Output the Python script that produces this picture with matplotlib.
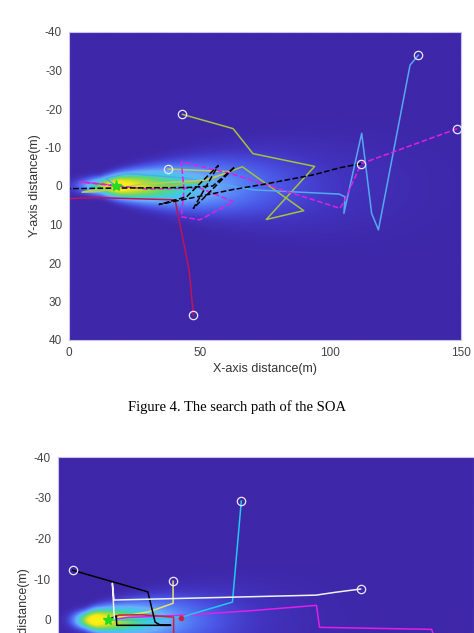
#!/usr/bin/env python3
"""
Search paths of the SOA over the odour plume (two stacked panels, the second cropped).
"""
import matplotlib
matplotlib.use('Agg')
import matplotlib.pyplot as plt
from matplotlib.colors import LinearSegmentedColormap
import numpy as np

plt.rcParams['font.family'] = 'Liberation Sans'
plt.rcParams['axes.unicode_minus'] = False

# ---- top panel (Figure 4) paths, in metres ----
olive_x = [43.4, 62.8, 70.4, 94.0, 75.5, 89.8, 66.3, 52.0, 40.0, 28.0, 18.0]
olive_y = [-18.6, -14.9, -8.4, -5.1, 8.7, 6.4, -5.0, -1.2, -0.3, 0.6, 0.0]

lblue_x = [133.7, 130.5, 118.4, 115.8, 112.0, 105.2, 105.6, 103.4, 70.5, 45.0, 22.0, 14.0, 18.0]
lblue_y = [-34.0, -31.4, 11.4, 7.1, -13.7, 7.1, 2.8, 2.1, 1.0, -2.0, -3.3, -2.0, 0.0]

magenta_x = [148.6, 111.8, 105.6, 103.7, 62.0, 43.0, 44.0, 43.0, 50.0, 63.0, 50.0, 30.0, 10.0, 4.0, 18.0]
magenta_y = [-14.9, -5.8, 3.5, 5.8, -3.2, -6.3, 1.0, 8.0, 8.8, 4.1, 0.5, 0.8, -0.7, -1.1, 0.0]

black_x = [111.8, 104.0, 93.5, 75.0, 62.9, 34.5, 45.0, 57.1, 47.6, 63.5, 55.0, 45.0, 25.0, 10.0, 0.0]
black_y = [-5.8, -4.8, -2.9, -0.5, 0.9, 4.8, 2.8, -5.3, 5.8, -5.0, 0.0, 0.4, 0.5, 0.6, 0.7]

red_x = [47.6, 46.0, 40.6, 25.0, 10.0, 0.0]
red_y = [33.5, 22.0, 3.6, 3.3, 3.0, 3.3]

ygreen_x = [37.9, 61.6, 52.0, 40.0, 28.0, 20.0, 10.0, 5.0, 18.0]
ygreen_y = [-4.4, -3.7, -1.5, -1.0, -0.5, 0.5, 1.5, 1.6, 0.0]

# ---- bottom panel (cropped) paths ----
b_cyan_x = [66.1, 62.9, 45.0, 30.0, 18.0]
b_cyan_y = [-29.2, -4.4, -0.8, 0.0, 0.0]

b_white_x = [109.1, 100.0, 93.0, 20.2, 19.6, 20.3, 17.0]
b_white_y = [-7.6, -6.8, -6.1, -4.9, -9.0, -0.3, 0.0]

b_black_x = [5.3, 32.4, 35.0, 37.0, 40.6, 21.2, 21.0, 18.0]
b_black_y = [-12.2, -6.9, 0.5, 1.3, 1.3, 1.3, -1.0, 0.0]

b_yellow_x = [41.5, 41.5, 32.7, 18.8, 18.0]
b_yellow_y = [-9.5, -4.1, -2.0, -0.4, 0.0]

b_magenta_x = [140.0, 134.7, 94.3, 93.2, 70.0, 46.0, 25.0, 18.0]
b_magenta_y = [12.0, 2.3, 1.8, -3.6, -2.3, -1.2, -0.6, 0.0]

b_red_x = [41.7, 41.7, 30.0, 22.0, 18.0]
b_red_y = [35.0, -0.7, -1.3, -1.2, 0.0]

b_circle_x = [66.1, 109.1, 5.3, 41.5]
b_circle_y = [-29.2, -7.6, -12.2, -9.5]

source_x, source_y = 18.0, 0.0

# parula-like map
parula = LinearSegmentedColormap.from_list('parula_like', [
    (0.00, (62/255, 39/255, 168/255)),
    (0.04, (66/255, 52/255, 192/255)),
    (0.10, (74/255, 84/255, 228/255)),
    (0.18, (84/255, 126/255, 246/255)),
    (0.28, (110/255, 172/255, 252/255)),
    (0.40, (60/255, 206/255, 226/255)),
    (0.55, (92/255, 214/255, 122/255)),
    (0.72, (172/255, 220/255, 52/255)),
    (0.88, (245/255, 226/255, 36/255)),
    (1.00, (250/255, 240/255, 20/255)),
])


def plume(xg, yg, x_peak, sx_up, decay, sy0, sy_rate):
    """Simple elongated plume: gaussian upwind, exponential decay downwind."""
    along = np.where(xg < x_peak,
                     np.exp(-0.5 * ((xg - x_peak) / sx_up) ** 2),
                     np.exp(-(xg - x_peak) / decay))
    sy = sy0 + sy_rate * np.clip(xg - x_peak + sx_up, 0, None)
    return along * np.exp(-0.5 * (yg / sy) ** 2)


def draw_panel(ax, field, paths, circles):
    ax.imshow(field, extent=(0, 150, -40, 40), origin='lower', aspect='auto',
              cmap=parula, vmin=0, vmax=1, interpolation='bilinear', zorder=0)
    for xs, ys, color, ls in paths:
        ax.plot(xs, ys, color=color, ls=ls, lw=1.1, zorder=2)
    ax.plot(circles[0], circles[1], 'o', ms=6, mfc='none', mec='#ece6ff',
            mew=0.9, zorder=4)
    ax.plot(source_x, source_y, '*', ms=8, color='#22dd22', zorder=5)
    ax.set_xlim(0, 150)
    ax.set_ylim(40, -40)
    ax.set_xticks([0, 50, 100, 150])
    ax.set_yticks([-40, -30, -20, -10, 0, 10, 20, 30, 40])
    ax.tick_params(length=0, labelsize=8.5, labelcolor='#444444', pad=5)
    for sp in ax.spines.values():
        sp.set_color('#c8c2ee')
        sp.set_linewidth(0.8)


fig = plt.figure(figsize=(4.74, 6.33), dpi=100)
W, H = 474, 633

xg, yg = np.meshgrid(np.linspace(0, 150, 600), np.linspace(-40, 40, 400))

# top panel
ax1 = fig.add_axes([69 / W, 1 - 340 / H, 392 / W, 308 / H])
top_field = np.clip(1.1 * plume(xg, yg, 20, 8, 26, 1.4, 0.075), 0, 1)
top_paths = [
    (olive_x, olive_y, '#a3c23f', '-'),
    (lblue_x, lblue_y, '#55a8f0', '-'),
    (ygreen_x, ygreen_y, '#b5cf5a', '-'),
    (red_x, red_y, '#c0135a', '-'),
    (magenta_x, magenta_y, '#e020e0', '--'),
    (black_x, black_y, '#000000', '--'),
]
top_circles = ([43.4, 133.7, 148.6, 111.8, 37.9, 47.6],
               [-18.6, -34.0, -14.9, -5.8, -4.4, 33.5])
draw_panel(ax1, top_field, top_paths, top_circles)
ax1.set_xlabel('X-axis distance(m)', fontsize=9, color='#333333', labelpad=3)
ax1.set_ylabel('Y-axis distance(m)', fontsize=9, color='#333333', labelpad=3)

fig.text(0.5, 1 - 407 / H, 'Figure 4. The search path of the SOA',
         ha='center', va='center', fontsize=10.5, family='Liberation Serif')

# bottom panel, cut off by the page edge (its x labels fall outside the page)
ax2 = fig.add_axes([58 / W, 1 - 783 / H, 416 / W, 326 / H])
bottom_field = np.clip(1.15 * plume(xg, yg, 14, 4.5, 18, 1.4, 0.08), 0, 1)
bottom_paths = [
    (b_magenta_x, b_magenta_y, '#e020e8', '-'),
    (b_cyan_x, b_cyan_y, '#22c8f0', '-'),
    (b_yellow_x, b_yellow_y, '#e8e070', '-'),
    (b_red_x, b_red_y, '#d0203a', '-'),
    (b_black_x, b_black_y, '#000000', '-'),
    (b_white_x, b_white_y, '#f2f2f2', '-'),
]
draw_panel(ax2, bottom_field, bottom_paths, (b_circle_x, b_circle_y))
ax2.plot(44.3, -0.5, 'o', ms=3, color='#d0203a', zorder=3)
ax2.set_xticklabels([])
ax2.set_yticks([-40, -30, -20, -10, 0])
ax2.set_ylabel('Y-axis distance(m)', fontsize=9, color='#333333', labelpad=3)

fig.savefig('out.png', dpi=100)
plt.close(fig)
